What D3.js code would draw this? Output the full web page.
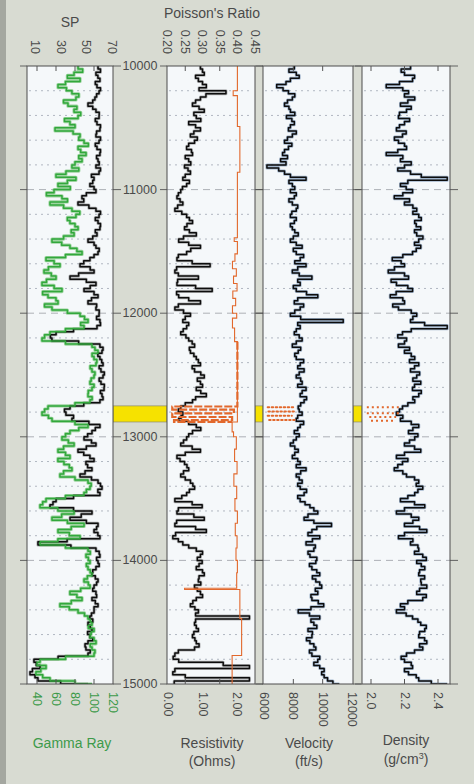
<!DOCTYPE html>
<html><head><meta charset="utf-8">
<script src="https://cdn.jsdelivr.net/npm/d3@7"></script>
<style>
html,body{margin:0;padding:0;background:#d8dbd2;}
svg{display:block;font-family:"Liberation Sans",Arial,sans-serif;}
</style></head><body>
<svg id="c" width="474" height="784"></svg>
<script>
// ---------------- DATA (sampled every 25 ft) ----------------
const depths = [10000,10025,10050,10075,10100,10125,10150,10175,10200,10225,10250,10275,10300,10325,10350,10375,10400,10425,10450,10475,
10500,10525,10550,10575,10600,10625,10650,10675,10700,10725,10750,10775,10800,10825,10850,10875,10900,10925,10950,10975,
11000,11025,11050,11075,11100,11125,11150,11175,11200,11225,11250,11275,11300,11325,11350,11375,11400,11425,11450,11475,
11500,11525,11550,11575,11600,11625,11650,11675,11700,11725,11750,11775,11800,11825,11850,11875,11900,11925,11950,11975,
12000,12025,12050,12075,12100,12125,12150,12175,12200,12225,12250,12275,12300,12325,12350,12375,12400,12425,12450,12475,
12500,12525,12550,12575,12600,12625,12650,12675,12700,12725,12750,12775,12800,12825,12850,12875,12900,12925,12950,12975,
13000,13025,13050,13075,13100,13125,13150,13175,13200,13225,13250,13275,13300,13325,13350,13375,13400,13425,13450,13475,
13500,13525,13550,13575,13600,13625,13650,13675,13700,13725,13750,13775,13800,13825,13850,13875,13900,13925,13950,13975,
14000,14025,14050,14075,14100,14125,14150,14175,14200,14225,14250,14275,14300,14325,14350,14375,14400,14425,14450,14475,
14500,14525,14550,14575,14600,14625,14650,14675,14700,14725,14750,14775,14800,14825,14850,14875,14900,14925,14950,14975,
15000];

const gammaRay = [83.2,88,79,72,85.3,70,62.1,71,76.8,84,81,68,72.6,82,79,86,83.2,69,74.7,80,
59,78,85.3,84,89.5,94,83.2,86,91.6,84,87.4,80,76.8,84,70.5,60,81,72,62.1,75,
57.9,50,66.3,72,53.7,68,76.8,85,81,72,74.7,80,83.2,76,79,68,55.8,66,74.7,82,
87.4,70,49.5,58,64.2,52,47.4,55,60,50,45.3,58,66.3,46,51.6,60,62.1,48,55.8,72,
85.3,90,93.7,86,89.5,70,53.7,48,45.3,70,97.9,101,104.2,98,100,103,102.1,96,97.9,101,
100,97,95.8,100,97.9,94,93.7,98,95.8,80,51.6,48,45.3,52,55.8,80,93.7,84,74.7,70,
66.3,73,79,68,62.1,70,74.7,62,68.4,74,76.8,68,64.2,80,93.7,97,95.8,92,89.5,70,
49.5,46,43.2,62,79,66,55.8,72,89.5,76,62.1,74,85.3,62,43.2,70,93.7,96,91.6,94,
95.8,92,93.7,96,97.9,93,89.5,94,95.8,86,74.7,82,87.4,76,64.2,74,83.2,90,93.7,96,
97.9,94,100,97,95.8,100,102.1,96,97.9,101,100,70,43.2,40,49.5,44,38.9,46,53.7,80,
97.9];

const spValues = [59.1,61,57.5,59,60.6,57,58.3,61,59.9,58,56.7,55,51.3,55,57.5,60,59.9,57,58.3,61,
60.6,58,57.5,61,59.9,57,58.3,61,60.6,58,59.1,60,57.5,61,59.9,54,56,55,52.8,56,
57.5,50,46.6,48,43.5,52,57.5,61,59.9,57,59.1,61,60.6,57,58.3,55,51.3,56,57.5,60,
59.1,56,52.8,48,45.1,53,56,44,37.3,50,57.5,53,48.2,56,59.1,54,51.3,58,57.5,60,
59.9,58,60.6,61,58.3,40,26.4,22,23.2,44,60.6,63,62.2,59,60.6,62,63,60,61.4,64,
63,60,61.4,64,63.8,61,62.2,63,60.6,48,37.3,33,34.1,40,38.8,52,60.6,57,54.4,51,
48.2,54,57.5,50,43.5,48,52.8,56,49.7,51,54.4,49,45.1,54,59.1,61,62.2,59,60.6,40,
26.4,24,21.7,40,54.4,46,37.3,50,59.1,58,56,59,60.6,35,12.3,38,57.5,60,60.6,58,
59.1,60,57.5,55,54.4,57,59.1,58,56,55,57.5,58,54.4,57,59.1,56,56,54,52.8,55,
51.3,53,54.4,51,52.8,55,51.3,49,49.7,53,51.3,28,9.2,11,13.9,8,6.1,10,12.3,30,
51.3];

const resistivity = [0.94,1.0,1.05,0.8,0.88,1.0,1.11,0.9,1.68,1.1,0.94,0.8,0.71,0.9,1.05,0.75,0.82,0.95,0.6,0.8,
0.94,0.75,0.65,0.85,0.77,0.6,0.54,0.68,0.71,0.5,0.6,0.66,0.48,0.58,0.65,0.5,0.43,0.62,0.54,0.42,
0.37,0.3,0.26,0.35,0.43,0.28,0.2,0.4,0.54,0.62,0.71,0.55,0.48,0.62,0.82,0.45,0.31,0.6,0.94,0.66,
0.54,0.3,0.26,0.7,1.22,0.25,0.2,0.3,0.88,0.28,0.26,0.8,1.28,0.25,0.31,0.6,0.94,0.3,0.2,0.45,
0.65,0.5,0.43,0.6,0.54,0.44,0.37,0.52,0.6,0.7,0.77,0.62,0.65,0.75,0.82,0.88,0.94,0.7,0.77,0.95,
1.05,0.85,0.94,1.0,0.82,0.95,1.11,0.8,0.71,0.5,0.37,0.3,0.43,0.38,0.31,0.6,0.82,0.95,0.71,0.6,
0.54,0.45,0.37,0.7,0.94,0.5,0.26,0.35,0.48,0.55,0.6,0.45,0.37,0.5,0.65,0.72,0.77,0.62,0.54,0.4,
0.2,0.7,0.99,0.3,0.26,0.75,1.05,0.25,0.2,0.8,1.11,0.22,0.14,0.3,0.43,0.6,0.82,1.0,0.94,0.85,
0.99,0.9,0.82,1.0,1.05,0.9,0.88,0.95,0.77,0.85,0.94,1.0,0.82,0.72,0.65,0.78,0.88,0.8,2.36,0.8,
0.77,0.82,0.88,0.75,0.71,0.78,0.82,0.9,0.77,0.3,0.2,0.15,0.31,1.6,2.36,0.2,0.14,0.5,2.36,0.18,
0.2];

const velocity = [8067,7700,8200,8400,7800,7500,6867,7300,7667,8100,7933,7600,7400,7700,7800,8100,7533,7900,8067,7800,
7667,8200,7933,7600,7400,7900,7667,7400,7267,7600,7133,7500,6200,7000,7400,7800,8867,7700,7933,8100,
7800,8200,8067,7700,7933,8300,8200,7900,7800,8200,8067,7800,7933,8100,8333,8000,7800,8200,8600,8000,
8200,8700,8467,8100,8867,8300,7933,8400,9267,8300,8467,8000,8200,8900,9667,8300,8067,8700,8467,8100,
7800,8500,11400,8300,8467,8200,8067,8400,8600,8200,7933,8500,8333,8100,8200,8700,8467,8300,8733,8400,
8200,8500,8600,8300,8867,8600,8467,8900,8733,8500,8333,8400,8600,8300,8200,8700,8467,8300,8067,8400,
8200,8000,7800,8100,8333,8100,7933,8300,8467,8200,8867,8500,8200,8400,8600,8300,8467,8900,8733,8300,
8467,8800,9133,9400,9667,9000,8733,9400,10600,9600,9267,9000,9800,9300,8867,9500,9400,9000,9133,9600,
9533,9100,9267,9600,9800,9300,9533,9800,9933,9500,9667,9200,9267,9700,10067,9200,8333,9100,9800,9200,
9400,9600,9000,9300,9267,8900,9133,9400,9533,9100,9267,9800,9667,9400,9800,10100,9933,10100,10333,10700,
11133];

const density = [2.236,2.18,2.2,2.26,2.248,2.17,2.091,2.19,2.224,2.2,2.261,2.22,2.176,2.24,2.212,2.17,2.164,2.23,2.2,2.17,
2.152,2.21,2.188,2.14,2.164,2.2,2.212,2.16,2.091,2.19,2.176,2.24,2.2,2.16,2.236,2.3,2.455,2.22,2.176,2.21,
2.248,2.19,2.139,2.23,2.2,2.25,2.273,2.25,2.285,2.3,2.261,2.27,2.297,2.26,2.273,2.31,2.285,2.26,2.297,2.27,
2.248,2.19,2.127,2.18,2.2,2.14,2.103,2.2,2.224,2.12,2.152,2.22,2.248,2.15,2.115,2.19,2.2,2.13,2.164,2.24,
2.273,2.25,2.236,2.32,2.455,2.24,2.188,2.16,2.212,2.2,2.164,2.23,2.2,2.24,2.261,2.23,2.285,2.26,2.236,2.29,
2.273,2.25,2.297,2.26,2.248,2.3,2.285,2.25,2.261,2.22,2.188,2.17,2.152,2.19,2.176,2.24,2.285,2.25,2.224,2.28,
2.261,2.23,2.2,2.26,2.297,2.2,2.152,2.22,2.188,2.16,2.139,2.19,2.212,2.26,2.285,2.27,2.309,2.28,2.261,2.22,
2.176,2.26,2.321,2.2,2.152,2.24,2.285,2.25,2.2,2.29,2.333,2.2,2.164,2.25,2.236,2.28,2.285,2.26,2.309,2.33,
2.273,2.3,2.321,2.29,2.285,2.32,2.297,2.3,2.333,2.29,2.273,2.33,2.309,2.22,2.176,2.2,2.152,2.21,2.248,2.28,
2.297,2.33,2.321,2.29,2.285,2.32,2.333,2.29,2.309,2.26,2.212,2.18,2.2,2.24,2.248,2.2,2.224,2.27,2.285,2.36,
2.455];

const poissonDepth = [10000,10200,10240,10490,10860,11390,11420,11520,11580,11640,11700,11760,11820,11880,11940,12000,12040,12120,12230,
12755,12780,12810,12840,12865,12880,
12960,13000,13100,13200,13300,13400,13500,13600,13700,13800,13900,14000,14100,14225,14235,14470,14770,15000];
const poissonValue = [0.400,0.388,0.400,0.407,0.400,0.391,0.400,0.393,0.386,0.397,0.389,0.399,0.387,0.395,0.386,0.398,0.386,0.392,0.400,
0.215,0.390,0.215,0.385,0.220,0.385,
0.389,0.397,0.392,0.399,0.390,0.398,0.393,0.400,0.394,0.399,0.396,0.400,0.398,0.250,0.407,0.412,0.385,0.385];

const gasZone = [12750, 12880];
const gasVelDepth = [12760, 12795, 12830, 12865];
const gasVelLow = [6250, 6300, 6250, 6350];
const gasVelHigh = [8000, 8100, 7900, 8200];
const gasDenDepth = [12760, 12810, 12840, 12870];
const gasDenLow = [1.975, 1.975, 1.99, 2.0];
const gasDenHigh = [2.18, 2.17, 2.15, 2.14];

const depthTicks = [10000, 11000, 12000, 13000, 14000, 15000];
const spTicks = [10, 30, 50, 70];
const grTicks = [40, 60, 80, 100, 120];
const poissonTicks = [0.20, 0.25, 0.30, 0.35, 0.40, 0.45];
const resTicks = [0.00, 1.00, 2.00];
const resMinorTicks = [0.5, 1.5];
const velTicks = [6000, 8000, 10000, 12000];
const denTicks = [2.0, 2.2, 2.4];

// ---------------- LAYOUT ----------------
const W = 474, H = 784, TOP = 66, BOT = 684;
const panels = [{x0:27,x1:113},{x0:167,x1:255},{x0:263,x1:353},{x0:362,x1:450}];
const textCol = "#4a4a4a", green = "#32a83c", greenText = "#3d9a4a", orange = "#e2682c";

const svg = d3.select("#c");
svg.append("rect").attr("width", W).attr("height", H).attr("fill", "#d8dbd2");
svg.append("rect").attr("width", 6).attr("height", H).attr("fill", "#a4a7a0");

const y = d3.scaleLinear().domain([10000, 15000]).range([TOP, BOT]);
const P = panels;
const xSP = d3.scaleLinear().domain([10, 70]).range([P[0].x0 + 8, P[0].x0 + 85]);
const xGR = d3.scaleLinear().domain([40, 120]).range([P[0].x0 + 10, P[0].x0 + 86]);
const xPoi = d3.scaleLinear().domain([0.20, 0.45]).range([P[1].x0, P[1].x1]);
const xRes = d3.scaleLinear().domain([0, 2]).range([P[1].x0 + 1, P[1].x0 + 70]);
const xVel = d3.scaleLinear().domain([6000, 12000]).range([P[2].x0 + 1, P[2].x0 + 89]);
const xDen = d3.scaleLinear().domain([2.0, 2.4]).range([P[3].x0 + 9, P[3].x0 + 76]);

const defs = svg.append("defs");
P.forEach((p, i) => defs.append("clipPath").attr("id", "clip" + i)
  .append("rect").attr("x", p.x0).attr("y", TOP).attr("width", p.x1 - p.x0).attr("height", BOT - TOP));

// yellow gas zone in gaps
[[P[0].x1, P[1].x0], [P[1].x1, P[2].x0], [P[2].x1, P[3].x0]].forEach(g => {
  svg.append("rect").attr("x", g[0]).attr("y", y(gasZone[0])).attr("width", g[1] - g[0])
    .attr("height", y(gasZone[1]) - y(gasZone[0])).attr("fill", "#f6e200")
    .attr("stroke", "#8c8c70").attr("stroke-width", 0.7);
});

// panel backgrounds + grid
const minor = d3.range(10200, 15000, 200).filter(d => d % 1000 !== 0);
P.forEach((p, i) => {
  svg.append("rect").attr("x", p.x0).attr("y", TOP).attr("width", p.x1 - p.x0).attr("height", BOT - TOP).attr("fill", "#f5f8fa");
  const g = svg.append("g");
  g.selectAll("line.mi").data(minor).join("line").attr("x1", p.x0 + 2).attr("x2", p.x1 - 2)
    .attr("y1", d => y(d)).attr("y2", d => y(d)).attr("stroke", "#a9b0ba").attr("stroke-width", 0.9).attr("stroke-dasharray", "2,4");
  g.selectAll("line.ma").data(depthTicks.slice(1, -1)).join("line").attr("x1", p.x0).attr("x2", p.x1)
    .attr("y1", d => y(d)).attr("y2", d => y(d)).attr("stroke", "#9a9ea4").attr("stroke-width", 0.8).attr("stroke-dasharray", "7,5");
  g.selectAll("line.ot").data(depthTicks).join("line").attr("x1", p.x0 - 7).attr("x2", p.x0)
    .attr("y1", d => y(d)).attr("y2", d => y(d)).attr("stroke", "#555").attr("stroke-width", 0.9);
  g.selectAll("line.ot2").data(depthTicks).join("line").attr("x1", p.x1).attr("x2", p.x1 + 8)
    .attr("y1", d => y(d)).attr("y2", d => y(d)).attr("stroke", "#555").attr("stroke-width", 0.9);
});

function series(ds, vs) { return ds.map((d, i) => ({ d: d, v: vs[i] })); }
function drawCurve(panelIdx, xs, data, color, width, opacity) {
  const line = d3.line().x(d => xs(d.v)).y(d => y(d.d)).curve(d3.curveStepBefore);
  return svg.append("path").datum(data).attr("clip-path", "url(#clip" + panelIdx + ")")
    .attr("d", line).attr("fill", "none").attr("stroke", color).attr("stroke-width", width)
    .attr("stroke-linejoin", "round").attr("opacity", opacity || 1);
}

const grData = series(depths, gammaRay), spData = series(depths, spValues);
const resData = series(depths, resistivity), velData = series(depths, velocity), denData = series(depths, density);
const poiData = series(poissonDepth, poissonValue);

// panel 1
drawCurve(0, xSP, spData, "#555", 3, 0.45);
drawCurve(0, xGR, grData, "#6fc070", 3.2, 0.65);
drawCurve(0, xSP, spData, "#0d0d0d", 1.5);
drawCurve(0, xGR, grData, green, 1.5);

// panel 2
drawCurve(1, xRes, resData, "#666", 3, 0.45);
drawCurve(1, xRes, resData, "#0d0d0d", 1.5);
const poiLine = d3.line().x(d => xPoi(d.v)).y(d => y(d.d)).curve(d3.curveStepBefore);
svg.append("path").datum(poiData.filter(d => d.d < gasZone[0] || d.d >= gasZone[1]))
  .attr("clip-path", "url(#clip1)").attr("d", poiLine).attr("fill", "none").attr("stroke", orange).attr("stroke-width", 1.1);
svg.append("path").datum(poiData.filter(d => d.d >= 12230 && d.d <= gasZone[1]))
  .attr("clip-path", "url(#clip1)").attr("d", poiLine).attr("fill", "none").attr("stroke", orange)
  .attr("stroke-width", 2.2).attr("stroke-dasharray", "8,2");

// panel 3
drawCurve(2, xVel, velData, "#4f74a0", 3, 0.5);
drawCurve(2, xVel, velData, "#0d0d0d", 1.5);
svg.append("g").selectAll("line").data(gasVelDepth).join("line")
  .attr("x1", (d, i) => xVel(gasVelLow[i])).attr("x2", (d, i) => xVel(gasVelHigh[i]))
  .attr("y1", d => y(d)).attr("y2", d => y(d)).attr("stroke", orange).attr("stroke-width", 2)
  .attr("stroke-dasharray", "1.5,2.5").attr("stroke-linecap", "round");

// panel 4
drawCurve(3, xDen, denData, "#4f74a0", 3, 0.5);
drawCurve(3, xDen, denData, "#0d0d0d", 1.5);
svg.append("g").selectAll("line").data(gasDenDepth).join("line")
  .attr("x1", (d, i) => xDen(gasDenLow[i])).attr("x2", (d, i) => xDen(gasDenHigh[i]))
  .attr("y1", d => y(d)).attr("y2", d => y(d)).attr("stroke", orange).attr("stroke-width", 2)
  .attr("stroke-dasharray", "2,3");

// panel borders
P.forEach(p => svg.append("rect").attr("x", p.x0).attr("y", TOP).attr("width", p.x1 - p.x0).attr("height", BOT - TOP)
  .attr("fill", "none").attr("stroke", "#4d4d4d").attr("stroke-width", 1));

// inner value ticks
function innerTicks(vals, xs) {
  const g = svg.append("g");
  g.selectAll("line.t").data(vals).join("line").attr("x1", d => xs(d)).attr("x2", d => xs(d))
    .attr("y1", TOP).attr("y2", TOP + 5).attr("stroke", "#555");
  g.selectAll("line.b").data(vals).join("line").attr("x1", d => xs(d)).attr("x2", d => xs(d))
    .attr("y1", BOT - 5).attr("y2", BOT).attr("stroke", "#555");
}
innerTicks(grTicks.slice(0, -1), xGR);
innerTicks(resMinorTicks, xRes);
innerTicks(velTicks.slice(1, -1), xVel);
innerTicks(denTicks, xDen);

// rotated tick labels
function rotLabels(vals, xs, fmt, top, color) {
  const yy = top ? 54 : 692;
  svg.append("g").selectAll("text").data(vals).join("text")
    .attr("transform", d => "translate(" + xs(d) + "," + yy + ") rotate(90)")
    .attr("text-anchor", top ? "end" : "start").attr("dominant-baseline", "central")
    .attr("font-size", 12.5).attr("fill", color || textCol).text(fmt);
}
rotLabels(spTicks, xSP, d => d, true);
rotLabels(poissonTicks, xPoi, d => d.toFixed(2), true);
rotLabels(grTicks, xGR, d => d, false, greenText);
rotLabels(resTicks, xRes, d => d.toFixed(2), false);
rotLabels(velTicks, xVel, d => d, false);
rotLabels(denTicks, xDen, d => d.toFixed(1), false);

// depth labels
svg.append("g").selectAll("text").data(depthTicks).join("text")
  .attr("x", (P[0].x1 + P[1].x0) / 2).attr("y", d => y(d)).attr("text-anchor", "middle")
  .attr("dominant-baseline", "central").attr("font-size", 12.5).attr("fill", textCol).text(d => d);

// titles
function title(x, yy, t, col) {
  return svg.append("text").attr("x", x).attr("y", yy).attr("text-anchor", "middle")
    .attr("font-size", 14).attr("fill", col || textCol).text(t);
}
title(70, 27, "SP");
title(212, 18, "Poisson's Ratio");
title(72, 748, "Gamma Ray", greenText);
title(212, 748, "Resistivity");
title(212, 766, "(Ohms)");
title(309, 748, "Velocity");
title(309, 766, "(ft/s)");
title(406, 745, "Density");
const dt = title(406, 764, "(g/cm");
dt.append("tspan").attr("font-size", 9).attr("dy", -5).text("3");
dt.append("tspan").attr("dy", 5).text(")");
</script>
</body></html>
